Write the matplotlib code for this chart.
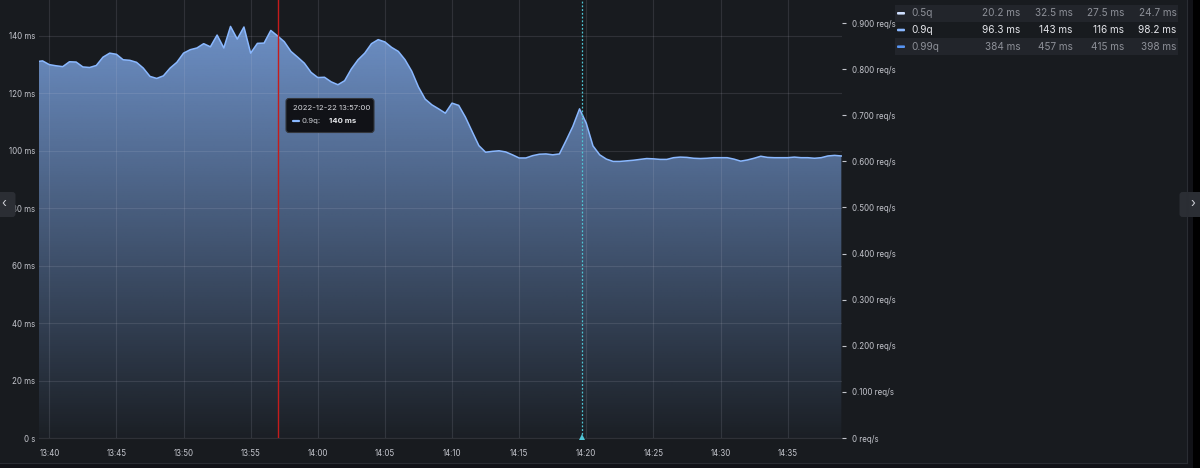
import matplotlib
matplotlib.use("Agg")
import matplotlib.pyplot as plt
import matplotlib.dates as mdates
import numpy as np
import pandas as pd
from matplotlib.patches import FancyBboxPatch, Rectangle

plt.rcParams['font.family'] = ['Inter', 'DejaVu Sans']

# ---------------- data ----------------
series_start = "2022-12-22 13:39:00"
q09_ms = [
    131.0, 131.3, 130.0, 129.6, 129.3, 131.0, 130.9, 129.2, 129.0, 129.7,
    132.6, 134.0, 133.6, 131.7, 131.5, 130.8, 128.8, 125.9, 125.2, 126.1,
    128.8, 130.8, 134.0, 135.2, 135.8, 137.3, 136.2, 140.3, 135.8, 143.3,
    138.9, 143.1, 134.0, 137.4, 137.5, 141.9, 140.0, 138.0, 134.6, 132.6,
    130.5, 127.3, 125.5, 125.6, 124.0, 123.0, 124.4, 128.5, 131.7, 134.0,
    137.3, 138.7, 137.9, 136.0, 134.6, 131.7, 127.7, 122.2, 118.0, 116.0,
    114.6, 113.1, 116.6, 115.8, 111.7, 106.7, 101.8, 99.5, 99.8, 100.0,
    99.6, 98.6, 97.5, 97.5, 98.3, 98.8, 98.9, 98.6, 98.9, 103.6,
    108.5, 114.6, 109.6, 101.7, 98.6, 97.1, 96.3, 96.3, 96.5, 96.7,
    97.0, 97.3, 97.2, 97.0, 97.0, 97.6, 97.8, 97.7, 97.4, 97.3,
    97.4, 97.6, 97.6, 97.6, 97.1, 96.4, 96.8, 97.4, 98.1, 97.7,
    97.6, 97.6, 97.6, 97.8, 97.6, 97.6, 97.4, 97.6, 98.2, 98.4,
    98.2,
]
view_start = "2022-12-22 13:39:14"
view_end = "2022-12-22 14:39:03"

left_ticks = [0, 20, 40, 60, 80, 100, 120, 140]
left_tick_labels = ["0 s", "20 ms", "40 ms", "60 ms", "80 ms", "100 ms", "120 ms", "140 ms"]
right_ticks = [0.0, 0.1, 0.2, 0.3, 0.4, 0.5, 0.6, 0.7, 0.8, 0.9]
right_tick_labels = ["0 req/s", "0.100 req/s", "0.200 req/s", "0.300 req/s", "0.400 req/s",
                     "0.500 req/s", "0.600 req/s", "0.700 req/s", "0.800 req/s", "0.900 req/s"]
x_tick_labels = ["13:40", "13:45", "13:50", "13:55", "14:00", "14:05", "14:10",
                 "14:15", "14:20", "14:25", "14:30", "14:35"]
day = "2022-12-22"

legend_names = ["0.5q", "0.9q", "0.99q"]
legend_colors = ["#cfe0ff", "#8ab8ff", "#5794f2"]
legend_values = [
    ["20.2 ms", "32.5 ms", "27.5 ms", "24.7 ms"],
    ["96.3 ms", "143 ms", "116 ms", "98.2 ms"],
    ["384 ms", "457 ms", "415 ms", "398 ms"],
]
legend_active = [False, True, False]

cursor_time = "2022-12-22 13:57:00"
tooltip_time = "2022-12-22 13:57:00"
tooltip_series = "0.9q:"
tooltip_value = "140 ms"
annotation_time = "2022-12-22 14:19:40"

# ---------------- style ----------------
BG = "#181b1f"
TXT = "#c3c5cc"
LINE = "#8ab8ff"
AXFS = 5.7
LEGFS = 7.2

W, H = 1200, 468
fig = plt.figure(figsize=(W / 100, H / 100), dpi=100, facecolor=BG)

ax_l, ax_r, ax_b, ax_t = 39, 842, 438, 0
ax = fig.add_axes([ax_l / W, (H - ax_b) / H, (ax_r - ax_l) / W, (ax_b - ax_t) / H])
ax.set_facecolor(BG)

times = pd.date_range(series_start, periods=len(q09_ms), freq="30s")
ymax = 152.5

# gradient fill under the line
poly = ax.fill_between(times, 0, q09_ms, facecolor="none", edgecolor="none")
N = 256
v = np.linspace(0, 1, N)
alpha = 0.03 + 0.76 * v
grad = np.zeros((N, 2, 4))
grad[:, :, 0] = 138 / 255
grad[:, :, 1] = 184 / 255
grad[:, :, 2] = 1.0
grad[:, :, 3] = alpha[:, None]
x0 = mdates.date2num(pd.Timestamp(series_start))
x1 = mdates.date2num(times[-1])
im = ax.imshow(grad, extent=[x0, x1, 0, ymax], origin="lower", aspect="auto",
               interpolation="bilinear", zorder=1)
im.set_clip_path(poly.get_paths()[0], transform=ax.transData)

ax.plot(times, q09_ms, color=LINE, lw=1.1, zorder=3)

ax.set_xlim(pd.Timestamp(view_start), pd.Timestamp(view_end))
ax.set_ylim(0, ymax)

for s in ax.spines.values():
    s.set_visible(False)

ax.set_yticks(left_ticks)
ax.set_yticklabels(left_tick_labels)
xt = [pd.Timestamp(day + " " + t) for t in x_tick_labels]
ax.set_xticks(xt)
ax.set_xticklabels(x_tick_labels)
ax.tick_params(axis="both", length=0, colors=TXT, labelsize=AXFS)
ax.tick_params(axis="y", pad=2.8)
ax.tick_params(axis="x", pad=8)
ax.grid(True, color="#ccccdc", alpha=0.13, lw=0.8, zorder=2)
ax.set_axisbelow(False)
ax.axhline(0, color="#ccccdc", alpha=0.13, lw=0.8, clip_on=False, zorder=2)

# cursor and annotation
ax.axvline(pd.Timestamp(cursor_time), color="#c41c1c", lw=1.0, zorder=4)
ax.axvline(pd.Timestamp(annotation_time), color="#4fc6d6", lw=0.9, ls=(0, (1.5, 1.5)), zorder=4)
ax.plot([pd.Timestamp(annotation_time)], [0.5], marker="^", color="#4fc6d6", ms=4.5,
        clip_on=False, zorder=5, markeredgewidth=0)

# right axis
ax2 = ax.twinx()
ax2.set_ylim(0, 0.95)
ax2.set_yticks(right_ticks)
ax2.set_yticklabels(right_tick_labels)
for s in ax2.spines.values():
    s.set_visible(False)
ax2.tick_params(axis="y", length=3, width=0.8, colors=TXT, labelsize=AXFS, pad=4)
for tl in ax2.yaxis.get_ticklines():
    tl.set_color((0.8, 0.8, 0.86, 0.3))

# ---------------- overlay (UI elements) ----------------
ov = fig.add_axes([0, 0, 1, 1], zorder=10)
ov.set_xlim(0, W)
ov.set_ylim(H, 0)
ov.axis("off")
ov.patch.set_alpha(0)

# tooltip
ov.add_patch(FancyBboxPatch((286, 98.5), 88, 34, boxstyle="round,pad=0,rounding_size=3",
                            fc="#111217", ec="#33363c", lw=0.8))
ov.text(292.7, 107.7, tooltip_time, va="center", ha="left", color="#d8d9de", fontsize=5.6)
ov.plot([293, 298.5], [121, 121], color=LINE, lw=1.6, solid_capstyle="round")
ov.text(301, 121, tooltip_series, va="center", ha="left", color="#c8cad0", fontsize=5.6)
ov.text(329.3, 121, tooltip_value, va="center", ha="left", color="#e6e7ea", fontsize=5.6,
        fontweight="bold")

# legend table
row_y = [13.3, 30.0, 46.7]
row_h = 16.7
val_x = [1020.7, 1072.7, 1124.3, 1176.7]
for i, name in enumerate(legend_names):
    if i != 1:
        ov.add_patch(Rectangle((895, row_y[i] - row_h / 2), 283, row_h, fc="#22252b", ec="none"))
    col = "#e4e5ea" if legend_active[i] else "#8d9098"
    ov.add_patch(FancyBboxPatch((897, row_y[i] - 1.3), 8, 2.6,
                                boxstyle="round,pad=0,rounding_size=1",
                                fc=legend_colors[i], ec="none"))
    ov.text(911.7, row_y[i], name, va="center", ha="left", color=col, fontsize=LEGFS)
    for j, val in enumerate(legend_values[i]):
        ov.text(val_x[j], row_y[i], val, va="center", ha="right", color=col, fontsize=LEGFS)

# panel border and page edges
ov.add_patch(Rectangle((0, 463.5), 1187, 10, fc="#111217", ec="none"))
ov.add_patch(Rectangle((1187, 0), 13, H, fc="#111217", ec="none"))
ov.add_patch(Rectangle((1193, 0), 7, H, fc="#000000", ec="none"))
ov.plot([0, 1186.5], [463, 463], color="#2a2d33", lw=0.8)
ov.plot([1186.5, 1186.5], [0, 463], color="#2a2d33", lw=0.8)

# navigation buttons
ov.add_patch(FancyBboxPatch((-5, 192), 20.5, 25, boxstyle="round,pad=0,rounding_size=3",
                            fc="#2b2e34", ec="none"))
ov.text(4, 204, "\u2039", va="center", ha="center", color="#d0d1d8", fontsize=9)
ov.add_patch(FancyBboxPatch((1179.5, 192), 26, 25, boxstyle="round,pad=0,rounding_size=3",
                            fc="#2b2e34", ec="none"))
ov.text(1193, 204, "\u203a", va="center", ha="center", color="#d0d1d8", fontsize=9)

fig.savefig("out.png", dpi=100, facecolor=BG)
